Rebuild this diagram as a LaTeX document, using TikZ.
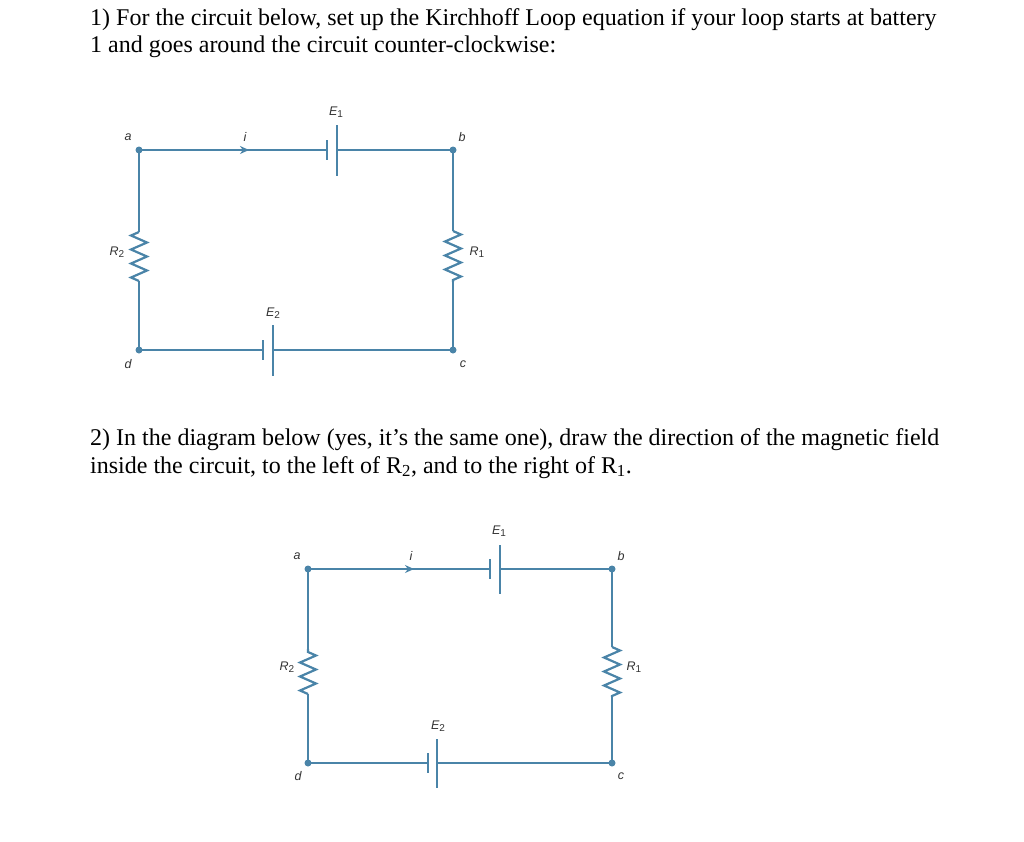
\documentclass[tikz,border=0pt]{standalone}
\usepackage{xcolor}
\usepackage{fontspec}
\setmainfont{Liberation Serif}
\newfontfamily\labelfont{Liberation Sans}
\usetikzlibrary{arrows.meta,decorations.pathmorphing}
\definecolor{wirecolor}{HTML}{4A84A8}
\definecolor{labelcolor}{HTML}{333333}
\newcommand{\lsub}[1]{\raisebox{-2.5pt}{\fontsize{10}{12}\selectfont\upshape #1}}

\begin{document}
\begin{tikzpicture}[x=1pt, y=-1pt, >={Stealth[length=9pt,width=8pt]},
    wire/.style = {draw=wirecolor, line width=2.2pt},
    res/.style = {wire, decoration={zigzag, segment length=14pt, amplitude=8pt}, decorate},
    dot/.style = {circle, fill=wirecolor, inner sep=0pt, outer sep=0pt, minimum size=7pt},
    plate/.style = {fill=wirecolor, inner sep=0pt, outer sep=0pt, minimum width=2.2pt},
    lbl/.style = {font=\labelfont\fontsize{12.5}{14}\selectfont\itshape, text=labelcolor, inner sep=0pt},
    line/.style = {anchor=base west, inner sep=0pt, font=\fontsize{24}{28}\selectfont, text=black}]
    \useasboundingbox (0,0) rectangle (1024,841);

    \node[line] (q1a) at (90,25) {1) For the circuit below, set up the Kirchhoff Loop equation if your loop starts at battery};
    \node[line] (q1b) at (90,52) {1 and goes around the circuit counter-clockwise:};
    \node[line] (q2a) at (90,445) {2) In the diagram below (yes, it’s the same one), draw the direction of the magnetic field};
    \node[line] (q2b) at (90,473) {inside the circuit, to the left of R\textsubscript{2}, and to the right of R\textsubscript{1}.};

    % first circuit
    \node[dot] (a1) at (139,150) {};
    \node[dot] (b1) at (453,150) {};
    \node[dot] (c1) at (453,350) {};
    \node[dot] (d1) at (139,350) {};
    \node[plate, minimum height=20pt] (s1) at (327,150) {};
    \node[plate, minimum height=51pt] (l1) at (337,150) {};
    \node[plate, minimum height=20pt] (s2) at (263,350) {};
    \node[plate, minimum height=51pt] (l2) at (273,350) {};
    \coordinate (i1) at (249,150);
    \coordinate (r1t) at (453,231);
    \coordinate (r1b) at (453,282);
    \coordinate (r2t) at (139,232);
    \coordinate (r2b) at (139,281);

    \draw[wire] (a1.center) -- (s1);
    \draw[wire,->] (a1.center) -- (i1);
    \draw[wire] (l1) -- (b1.center);
    \draw[wire] (b1.center) -- (r1t);
    \draw[res] (r1t) -- (r1b);
    \draw[wire] (r1b) -- (c1.center);
    \draw[wire] (c1.center) -- (l2);
    \draw[wire] (s2) -- (d1.center);
    \draw[wire] (d1.center) -- (r2b);
    \draw[res] (r2b) -- (r2t);
    \draw[wire] (r2t) -- (a1.center);

    \node[lbl] (la1) at (128,137) {a};
    \node[lbl] (lb1) at (462,137) {b};
    \node[lbl] (lc1) at (463,364) {c};
    \node[lbl] (ld1) at (128,364) {d};
    \node[lbl] (li1) at (245,137) {i};
    \node[lbl] (le1) at (336,112) {E\lsub{1}};
    \node[lbl] (le2) at (273,313) {E\lsub{2}};
    \node[lbl] (lr1) at (477,252) {R\lsub{1}};
    \node[lbl] (lr2) at (117,252) {R\lsub{2}};

    % second circuit
    \node[dot] (a2) at (308,569) {};
    \node[dot] (b2) at (612,569) {};
    \node[dot] (c2) at (612,763) {};
    \node[dot] (d2) at (308,763) {};
    \node[plate, minimum height=20pt] (s3) at (490,569) {};
    \node[plate, minimum height=49pt] (l3) at (500,569) {};
    \node[plate, minimum height=20pt] (s4) at (428,763) {};
    \node[plate, minimum height=49pt] (l4) at (437,763) {};
    \coordinate (i2) at (414,569);
    \coordinate (r3t) at (612,647);
    \coordinate (r3b) at (612,697);
    \coordinate (r4t) at (308,649);
    \coordinate (r4b) at (308,694);

    \draw[wire] (a2.center) -- (s3);
    \draw[wire,->] (a2.center) -- (i2);
    \draw[wire] (l3) -- (b2.center);
    \draw[wire] (b2.center) -- (r3t);
    \draw[res] (r3t) -- (r3b);
    \draw[wire] (r3b) -- (c2.center);
    \draw[wire] (c2.center) -- (l4);
    \draw[wire] (s4) -- (d2.center);
    \draw[wire] (d2.center) -- (r4b);
    \draw[res] (r4b) -- (r4t);
    \draw[wire] (r4t) -- (a2.center);

    \node[lbl] (la2) at (297,556) {a};
    \node[lbl] (lb2) at (621,556) {b};
    \node[lbl] (lc2) at (621,776) {c};
    \node[lbl] (ld2) at (298,776) {d};
    \node[lbl] (li2) at (411,556) {i};
    \node[lbl] (le3) at (499,531) {E\lsub{1}};
    \node[lbl] (le4) at (438,726) {E\lsub{2}};
    \node[lbl] (lr3) at (634,667) {R\lsub{1}};
    \node[lbl] (lr4) at (287,667) {R\lsub{2}};
\end{tikzpicture}
\end{document}
